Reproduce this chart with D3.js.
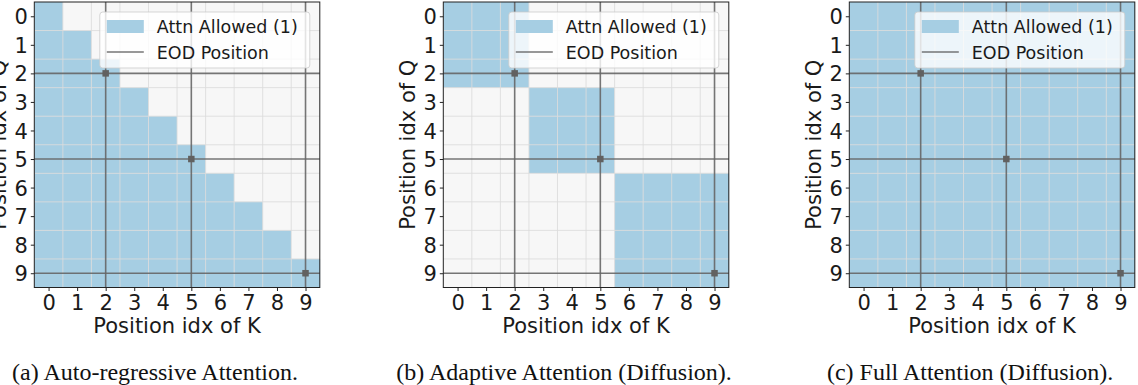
<!DOCTYPE html>
<html>
<head>
<meta charset="utf-8">
<script src="https://cdn.jsdelivr.net/npm/d3@7"></script>
<style>
  html, body { margin: 0; padding: 0; background: #ffffff; }
  svg { display: block; }
</style>
</head>
<body>
<svg id="chart" width="1138" height="385"></svg>
<script>
// ---------------- data ----------------
const positions = [0, 1, 2, 3, 4, 5, 6, 7, 8, 9];
const tickLabels = ["0", "1", "2", "3", "4", "5", "6", "7", "8", "9"];

// rows = query position (Q), columns = key position (K); 1 = attention allowed
const maskAutoregressive = [
  [1,0,0,0,0,0,0,0,0,0],
  [1,1,0,0,0,0,0,0,0,0],
  [1,1,1,0,0,0,0,0,0,0],
  [1,1,1,1,0,0,0,0,0,0],
  [1,1,1,1,1,0,0,0,0,0],
  [1,1,1,1,1,1,0,0,0,0],
  [1,1,1,1,1,1,1,0,0,0],
  [1,1,1,1,1,1,1,1,0,0],
  [1,1,1,1,1,1,1,1,1,0],
  [1,1,1,1,1,1,1,1,1,1]
];
const maskAdaptive = [
  [1,1,1,0,0,0,0,0,0,0],
  [1,1,1,0,0,0,0,0,0,0],
  [1,1,1,0,0,0,0,0,0,0],
  [0,0,0,1,1,1,0,0,0,0],
  [0,0,0,1,1,1,0,0,0,0],
  [0,0,0,1,1,1,0,0,0,0],
  [0,0,0,0,0,0,1,1,1,1],
  [0,0,0,0,0,0,1,1,1,1],
  [0,0,0,0,0,0,1,1,1,1],
  [0,0,0,0,0,0,1,1,1,1]
];
const maskFull = [
  [1,1,1,1,1,1,1,1,1,1],
  [1,1,1,1,1,1,1,1,1,1],
  [1,1,1,1,1,1,1,1,1,1],
  [1,1,1,1,1,1,1,1,1,1],
  [1,1,1,1,1,1,1,1,1,1],
  [1,1,1,1,1,1,1,1,1,1],
  [1,1,1,1,1,1,1,1,1,1],
  [1,1,1,1,1,1,1,1,1,1],
  [1,1,1,1,1,1,1,1,1,1],
  [1,1,1,1,1,1,1,1,1,1]
];
const eodPositions = [2, 5, 9];
const captions = [
  "(a) Auto-regressive Attention.",
  "(b) Adaptive Attention (Diffusion).",
  "(c) Full Attention (Diffusion)."
];
const legendLabels = ["Attn Allowed (1)", "EOD Position"];
const xLabel = "Position idx of K";
const yLabel = "Position idx of Q";

// ---------------- layout / style ----------------
const panels = [
  { mask: maskAutoregressive, left: 34.3, caption: captions[0] },
  { mask: maskAdaptive,       left: 443.3, caption: captions[1] },
  { mask: maskFull,           left: 849.3, caption: captions[2] }
];
const plotTop = 2, size = 285.5;
const colorOn = "#a6cee3", colorOff = "#f7f7f7";
const eodColor = "#666666";
const font = "DejaVu Sans, Verdana, sans-serif";

const svg = d3.select("#chart");

const x = d3.scaleLinear().domain([-0.5, 9.5]).range([0, size]);
const y = d3.scaleLinear().domain([-0.5, 9.5]).range([0, size]);
const color = d3.scaleOrdinal().domain([0, 1]).range([colorOff, colorOn]);

panels.forEach(p => {
  const g = svg.append("g").attr("transform", `translate(${p.left},${plotTop})`);

  // cells
  const cells = [];
  p.mask.forEach((row, qi) => row.forEach((v, ki) => cells.push({ q: positions[qi], k: positions[ki], v })));
  g.append("g").selectAll("rect").data(cells).join("rect")
    .attr("x", d => x(d.k - 0.5))
    .attr("y", d => y(d.q - 0.5))
    .attr("width", d => x(d.k + 0.5) - x(d.k - 0.5) + 0.3)
    .attr("height", d => y(d.q + 0.5) - y(d.q - 0.5) + 0.3)
    .attr("fill", d => color(d.v));

  // grid at cell boundaries
  const bounds = positions.slice(0, -1).map(v => v + 0.5);
  const grid = g.append("g").attr("stroke", "#dcdcdc").attr("stroke-opacity", 0.85).attr("stroke-width", 1);
  grid.selectAll("line.v").data(bounds).join("line").attr("class", "v")
    .attr("x1", d => x(d)).attr("x2", d => x(d)).attr("y1", 0).attr("y2", size);
  grid.selectAll("line.h").data(bounds).join("line").attr("class", "h")
    .attr("y1", d => y(d)).attr("y2", d => y(d)).attr("x1", 0).attr("x2", size);

  // EOD lines
  const eod = g.append("g").attr("stroke", eodColor).attr("stroke-width", 1.6).attr("stroke-opacity", 0.9);
  eod.selectAll("line.v").data(eodPositions).join("line").attr("class", "v")
    .attr("x1", d => x(d)).attr("x2", d => x(d)).attr("y1", 0).attr("y2", size);
  eod.selectAll("line.h").data(eodPositions).join("line").attr("class", "h")
    .attr("y1", d => y(d)).attr("y2", d => y(d)).attr("x1", 0).attr("x2", size);

  // EOD markers on diagonal
  const ms = 6.5;
  g.append("g").selectAll("rect").data(eodPositions).join("rect")
    .attr("x", d => x(d) - ms / 2).attr("y", d => y(d) - ms / 2)
    .attr("width", ms).attr("height", ms).attr("fill", "#616161");

  // axes
  const xAxis = d3.axisBottom(x).tickValues(positions).tickFormat((d, i) => tickLabels[i])
    .tickSize(3.5).tickPadding(4.5);
  const yAxis = d3.axisLeft(y).tickValues(positions).tickFormat((d, i) => tickLabels[i])
    .tickSize(3.5).tickPadding(3);
  const gx = g.append("g").attr("transform", `translate(0,${size})`).call(xAxis);
  const gy = g.append("g").call(yAxis);
  [gx, gy].forEach(a => {
    a.select(".domain").remove();
    a.selectAll(".tick line").attr("stroke", "#222").attr("stroke-width", 1);
    a.selectAll(".tick text").attr("fill", "#1a1a1a")
      .style("font-family", font).style("font-size", "21px");
  });
  gy.selectAll(".tick text").attr("dy", "0.36em");

  // frame
  g.append("rect").attr("x", 0).attr("y", 0).attr("width", size).attr("height", size)
    .attr("fill", "none").attr("stroke", "#222").attr("stroke-width", 1);

  // axis labels
  g.append("text").attr("x", size / 2).attr("y", 333 - plotTop)
    .attr("text-anchor", "middle").attr("fill", "#1a1a1a")
    .style("font-family", font).style("font-size", "21px").text(xLabel);
  g.append("text").attr("transform", `translate(-28,${size / 2}) rotate(-90)`)
    .attr("text-anchor", "middle").attr("fill", "#1a1a1a")
    .style("font-family", font).style("font-size", "21px").text(yLabel);

  // legend
  const lw = 210, lh = 56;
  const lg = g.append("g").attr("transform", `translate(${size - 10 - lw},10)`);
  lg.append("rect").attr("width", lw).attr("height", lh).attr("rx", 3)
    .attr("fill", "#ffffff").attr("fill-opacity", 0.8)
    .attr("stroke", "#cccccc").attr("stroke-opacity", 0.8).attr("stroke-width", 1);
  lg.append("rect").attr("x", 7).attr("y", 8).attr("width", 37).attr("height", 13)
    .attr("fill", colorOn);
  lg.append("line").attr("x1", 7).attr("x2", 44).attr("y1", 40).attr("y2", 40)
    .attr("stroke", eodColor).attr("stroke-width", 1.6).attr("stroke-opacity", 0.9);
  lg.selectAll("text").data(legendLabels).join("text")
    .attr("x", 57).attr("y", (d, i) => 21 + i * 25.5)
    .attr("fill", "#1a1a1a")
    .style("font-family", font).style("font-size", "17.5px").text(d => d);

  // caption
  svg.append("text").attr("x", p.left + size / 2 - 22).attr("y", 380)
    .attr("text-anchor", "middle").attr("fill", "#111")
    .style("font-family", "Liberation Serif, Times New Roman, serif").style("font-size", "24px")
    .text(p.caption);
});
</script>
</body>
</html>
